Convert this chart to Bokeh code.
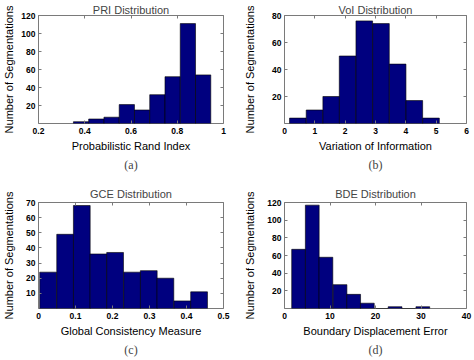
from bokeh.plotting import figure
from bokeh.layouts import gridplot
from bokeh.models import Range1d, FixedTicker, LinearAxis, Title, ColumnDataSource
from bokeh.embed import file_html
from bokeh.resources import INLINE

# ---------------- data ----------------
pri_centers = [0.384, 0.450, 0.516, 0.582, 0.648, 0.714, 0.780, 0.846, 0.912]
pri_counts = [2, 5, 7, 21, 15, 32, 52, 111, 54]
pri_bin_width = 0.066

voi_centers = [0.44, 0.99, 1.54, 2.08, 2.63, 3.18, 3.73, 4.28, 4.83]
voi_counts = [4, 10, 20, 50, 76, 74, 44, 17, 4]
voi_bin_width = 0.548

gce_centers = [0.026, 0.072, 0.117, 0.162, 0.207, 0.253, 0.298, 0.343, 0.389, 0.434]
gce_counts = [24, 49, 68, 36, 37, 24, 25, 20, 5, 11]
gce_bin_width = 0.0453

bde_centers = [3.1, 6.1, 9.1, 12.2, 15.2, 18.2, 21.3, 24.3, 27.3, 30.4]
bde_counts = [67, 117, 58, 27, 16, 6, 0, 2, 0, 2]
bde_bin_width = 3.03

pri_xticks = [0.2, 0.4, 0.6, 0.8, 1.0]
pri_xlabels = ["0.2", "0.4", "0.6", "0.8", "1"]
pri_yticks = [20, 40, 60, 80, 100, 120]

voi_xticks = [0, 1, 2, 3, 4, 5, 6]
voi_xlabels = ["0", "1", "2", "3", "4", "5", "6"]
voi_yticks = [20, 40, 60, 80]

gce_xticks = [0.0, 0.1, 0.2, 0.3, 0.4, 0.5]
gce_xlabels = ["0", "0.1", "0.2", "0.3", "0.4", "0.5"]
gce_yticks = [10, 20, 30, 40, 50, 60, 70]

bde_xticks = [0, 10, 20, 30, 40]
bde_xlabels = ["0", "10", "20", "30", "40"]
bde_yticks = [20, 40, 60, 80, 100, 120]

# ---------------- styling ----------------
BAR_FILL = "#00007F"
FRAME = "#7a7a7a"
SANS = "Liberation Sans"
SERIF = "Liberation Serif"


def panel(title, caption, xlabel, centers, counts, bw, xr, yr, xticks, xlabels,
          yticks, borders, title_standoff, ylabel_standoff):
    left, right, top, bottom = borders
    p = figure(width=237, height=180, output_backend="svg", toolbar_location=None,
               x_range=Range1d(*xr), y_range=Range1d(*yr),
               min_border_left=left, min_border_right=right,
               min_border_top=top, min_border_bottom=bottom)
    p.title.text = title
    p.title.align = "center"
    p.title.text_font = SANS
    p.title.text_font_style = "normal"
    p.title.text_font_size = "11px"
    p.title.standoff = title_standoff
    p.title.offset = 0

    src = ColumnDataSource(dict(x=centers, top=counts))
    p.vbar(x="x", top="top", width=bw, bottom=0, source=src,
           fill_color=BAR_FILL, line_color="black", line_width=0.6)

    p.grid.visible = False
    p.outline_line_color = FRAME
    p.outline_line_width = 1
    p.background_fill_color = "white"
    p.border_fill_color = "white"

    xo = {t: l for t, l in zip(xticks, xlabels)}
    for ax, ticks in ((p.xaxis[0], xticks), (p.yaxis[0], yticks)):
        ax.ticker = FixedTicker(ticks=ticks)
        ax.major_tick_in = 3
        ax.major_tick_out = 0
        ax.minor_tick_line_color = None
        ax.major_tick_line_color = FRAME
        ax.axis_line_color = None
        ax.major_label_text_font = SANS
        ax.major_label_text_font_style = "bold"
        ax.major_label_text_font_size = "8.5px"
        ax.major_label_text_color = "black"
        ax.axis_label_text_font = SANS
        ax.axis_label_text_font_style = "normal"
        ax.axis_label_text_font_size = "11px"
        ax.axis_label_text_color = "black"
    p.xaxis[0].major_label_overrides = xo
    p.xaxis[0].major_label_standoff = 4
    p.xaxis[0].axis_label_standoff = 3
    p.yaxis[0].major_label_standoff = 3
    p.yaxis[0].axis_label_standoff = ylabel_standoff
    p.xaxis[0].axis_label = xlabel
    p.yaxis[0].axis_label = "Number of Segmentations"

    # mirrored inner ticks on the right and top edges (MATLAB box style)
    for loc, ticks in (("right", yticks), ("above", xticks)):
        ax = LinearAxis(ticker=FixedTicker(ticks=ticks))
        ax.major_tick_in = 3
        ax.major_tick_out = 0
        ax.minor_tick_line_color = None
        ax.major_tick_line_color = FRAME
        ax.axis_line_color = None
        ax.major_label_text_font_size = "1px"
        ax.major_label_text_color = None
        ax.major_label_text_alpha = 0
        ax.major_label_standoff = 0
        p.add_layout(ax, loc)

    cap = Title(text=caption, align="center", text_font=SERIF,
                text_font_style="normal", text_font_size="12px", standoff=3)
    p.add_layout(cap, "below")
    return p


pa = panel("PRI Distribution", "(a)", "Probabilistic Rand Index",
           pri_centers, pri_counts, pri_bin_width, (0.2, 1.0), (0, 120),
           pri_xticks, pri_xlabels, pri_yticks, (38, 14, 15, 57), 0, 3)
pb = panel("VoI Distribution", "(b)", "Variation of Information",
           voi_centers, voi_counts, voi_bin_width, (0, 6), (0, 80),
           voi_xticks, voi_xlabels, voi_yticks, (47, 8, 15, 56), 0, 13)
pc = panel("GCE Distribution", "(c)", "Global Consistency Measure",
           gce_centers, gce_counts, gce_bin_width, (0, 0.5), (0, 70),
           gce_xticks, gce_xlabels, gce_yticks, (36, 14, 22, 52), 5, 8)
pd = panel("BDE Distribution", "(d)", "Boundary Displacement Error",
           bde_centers, bde_counts, bde_bin_width, (0, 40), (0, 120),
           bde_xticks, bde_xlabels, bde_yticks, (47, 5, 22, 52), 5, 8)

grid = gridplot([[pa, pb], [pc, pd]], toolbar_location=None)

open("out.html", "w").write(file_html(grid, INLINE))
